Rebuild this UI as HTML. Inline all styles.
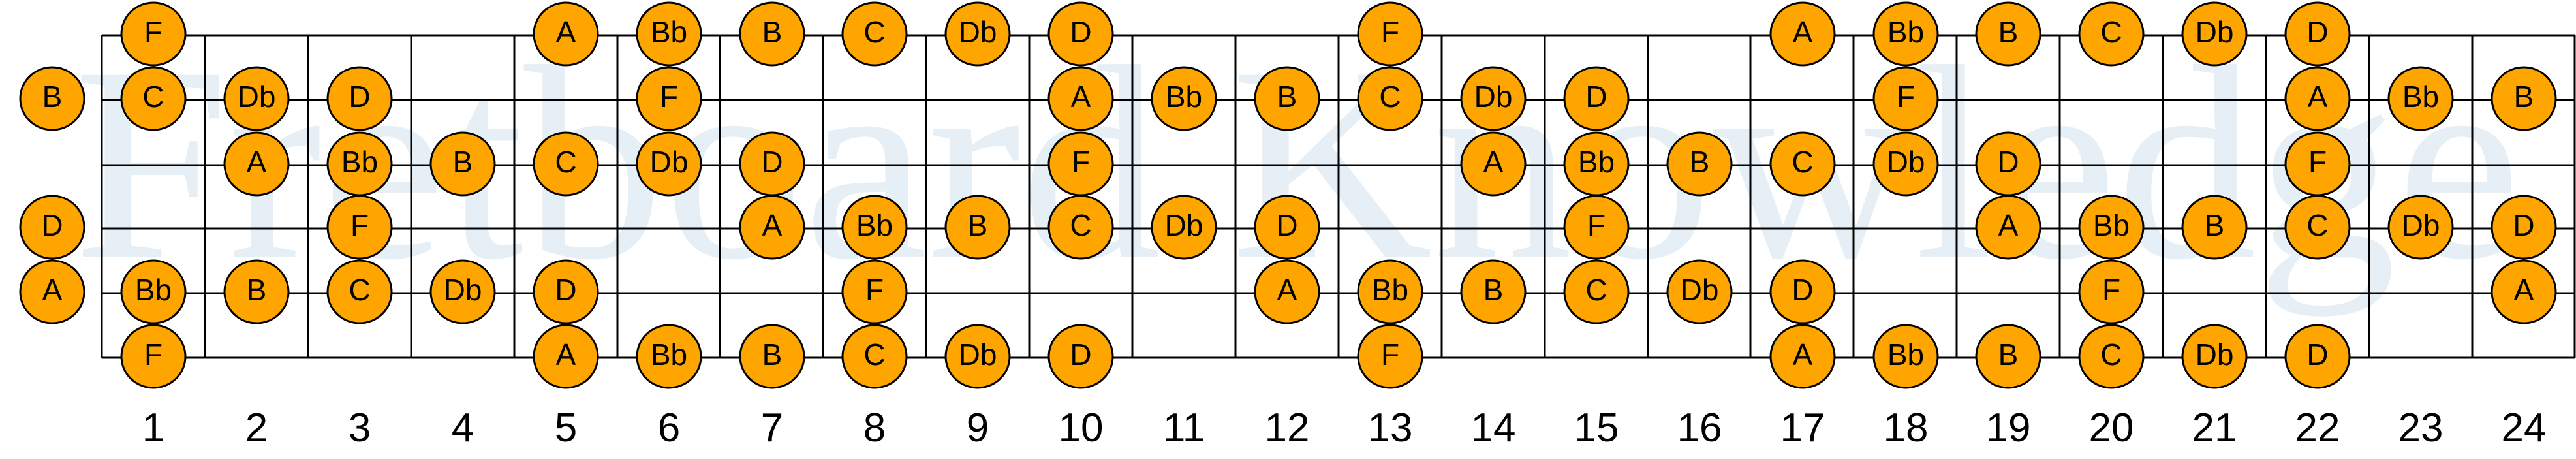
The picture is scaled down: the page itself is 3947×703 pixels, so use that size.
<!DOCTYPE html>
<html><head><meta charset="utf-8"><style>
html,body{margin:0;padding:0;background:#fff;}
svg{display:block}
.n ellipse{fill:#ffa500;stroke:#000;stroke-width:3}
.n text{font-family:"Liberation Sans",sans-serif;font-size:46px;text-anchor:middle;fill:#000}
.num{font-family:"Liberation Sans",sans-serif;font-size:62px;text-anchor:middle;fill:#000}
</style></head><body>
<svg width="3947" height="703" viewBox="0 0 3947 703" xmlns="http://www.w3.org/2000/svg">
<text x="112" y="393" textLength="3750" lengthAdjust="spacingAndGlyphs" font-family="Liberation Serif, serif" font-size="425" fill="#e6eff5">Fretboard Knowledge</text>
<g stroke="#000" stroke-width="3" fill="none">
<line x1="156" y1="54" x2="3945" y2="54"/>
<line x1="156" y1="153" x2="3945" y2="153"/>
<line x1="156" y1="253" x2="3945" y2="253"/>
<line x1="156" y1="350" x2="3945" y2="350"/>
<line x1="156" y1="449" x2="3945" y2="449"/>
<line x1="156" y1="548" x2="3945" y2="548"/>
<line x1="156" y1="54" x2="156" y2="548"/>
<line x1="314" y1="54" x2="314" y2="548"/><line x1="472" y1="54" x2="472" y2="548"/><line x1="630" y1="54" x2="630" y2="548"/><line x1="788" y1="54" x2="788" y2="548"/><line x1="946" y1="54" x2="946" y2="548"/><line x1="1103" y1="54" x2="1103" y2="548"/><line x1="1261" y1="54" x2="1261" y2="548"/><line x1="1419" y1="54" x2="1419" y2="548"/><line x1="1577" y1="54" x2="1577" y2="548"/><line x1="1735" y1="54" x2="1735" y2="548"/><line x1="1893" y1="54" x2="1893" y2="548"/><line x1="2051" y1="54" x2="2051" y2="548"/><line x1="2209" y1="54" x2="2209" y2="548"/><line x1="2367" y1="54" x2="2367" y2="548"/><line x1="2525" y1="54" x2="2525" y2="548"/><line x1="2682" y1="54" x2="2682" y2="548"/><line x1="2840" y1="54" x2="2840" y2="548"/><line x1="2998" y1="54" x2="2998" y2="548"/><line x1="3156" y1="54" x2="3156" y2="548"/><line x1="3314" y1="54" x2="3314" y2="548"/><line x1="3472" y1="54" x2="3472" y2="548"/><line x1="3630" y1="54" x2="3630" y2="548"/><line x1="3788" y1="54" x2="3788" y2="548"/><line x1="3945" y1="54" x2="3945" y2="548"/>
</g>
<!-- row 1 (y=52) -->
<g class="n" transform="translate(235,52)"><ellipse rx="49" ry="48"/><text y="13">F</text></g>
<g class="n" transform="translate(867,52)"><ellipse rx="49" ry="48"/><text y="13">A</text></g>
<g class="n" transform="translate(1025,52)"><ellipse rx="49" ry="48"/><text y="13">Bb</text></g>
<g class="n" transform="translate(1183,52)"><ellipse rx="49" ry="48"/><text y="13">B</text></g>
<g class="n" transform="translate(1340,52)"><ellipse rx="49" ry="48"/><text y="13">C</text></g>
<g class="n" transform="translate(1498,52)"><ellipse rx="49" ry="48"/><text y="13">Db</text></g>
<g class="n" transform="translate(1656,52)"><ellipse rx="49" ry="48"/><text y="13">D</text></g>
<g class="n" transform="translate(2130,52)"><ellipse rx="49" ry="48"/><text y="13">F</text></g>
<g class="n" transform="translate(2762,52)"><ellipse rx="49" ry="48"/><text y="13">A</text></g>
<g class="n" transform="translate(2920,52)"><ellipse rx="49" ry="48"/><text y="13">Bb</text></g>
<g class="n" transform="translate(3077,52)"><ellipse rx="49" ry="48"/><text y="13">B</text></g>
<g class="n" transform="translate(3235,52)"><ellipse rx="49" ry="48"/><text y="13">C</text></g>
<g class="n" transform="translate(3393,52)"><ellipse rx="49" ry="48"/><text y="13">Db</text></g>
<g class="n" transform="translate(3551,52)"><ellipse rx="49" ry="48"/><text y="13">D</text></g>
<!-- row 2 (y=151) -->
<g class="n" transform="translate(80,151)"><ellipse rx="49" ry="48"/><text y="13">B</text></g>
<g class="n" transform="translate(235,151)"><ellipse rx="49" ry="48"/><text y="13">C</text></g>
<g class="n" transform="translate(393,151)"><ellipse rx="49" ry="48"/><text y="13">Db</text></g>
<g class="n" transform="translate(551,151)"><ellipse rx="49" ry="48"/><text y="13">D</text></g>
<g class="n" transform="translate(1025,151)"><ellipse rx="49" ry="48"/><text y="13">F</text></g>
<g class="n" transform="translate(1656,151)"><ellipse rx="49" ry="48"/><text y="13">A</text></g>
<g class="n" transform="translate(1814,151)"><ellipse rx="49" ry="48"/><text y="13">Bb</text></g>
<g class="n" transform="translate(1972,151)"><ellipse rx="49" ry="48"/><text y="13">B</text></g>
<g class="n" transform="translate(2130,151)"><ellipse rx="49" ry="48"/><text y="13">C</text></g>
<g class="n" transform="translate(2288,151)"><ellipse rx="49" ry="48"/><text y="13">Db</text></g>
<g class="n" transform="translate(2446,151)"><ellipse rx="49" ry="48"/><text y="13">D</text></g>
<g class="n" transform="translate(2920,151)"><ellipse rx="49" ry="48"/><text y="13">F</text></g>
<g class="n" transform="translate(3551,151)"><ellipse rx="49" ry="48"/><text y="13">A</text></g>
<g class="n" transform="translate(3709,151)"><ellipse rx="49" ry="48"/><text y="13">Bb</text></g>
<g class="n" transform="translate(3867,151)"><ellipse rx="49" ry="48"/><text y="13">B</text></g>
<!-- row 3 (y=251) -->
<g class="n" transform="translate(393,251)"><ellipse rx="49" ry="48"/><text y="13">A</text></g>
<g class="n" transform="translate(551,251)"><ellipse rx="49" ry="48"/><text y="13">Bb</text></g>
<g class="n" transform="translate(709,251)"><ellipse rx="49" ry="48"/><text y="13">B</text></g>
<g class="n" transform="translate(867,251)"><ellipse rx="49" ry="48"/><text y="13">C</text></g>
<g class="n" transform="translate(1025,251)"><ellipse rx="49" ry="48"/><text y="13">Db</text></g>
<g class="n" transform="translate(1183,251)"><ellipse rx="49" ry="48"/><text y="13">D</text></g>
<g class="n" transform="translate(1656,251)"><ellipse rx="49" ry="48"/><text y="13">F</text></g>
<g class="n" transform="translate(2288,251)"><ellipse rx="49" ry="48"/><text y="13">A</text></g>
<g class="n" transform="translate(2446,251)"><ellipse rx="49" ry="48"/><text y="13">Bb</text></g>
<g class="n" transform="translate(2604,251)"><ellipse rx="49" ry="48"/><text y="13">B</text></g>
<g class="n" transform="translate(2762,251)"><ellipse rx="49" ry="48"/><text y="13">C</text></g>
<g class="n" transform="translate(2920,251)"><ellipse rx="49" ry="48"/><text y="13">Db</text></g>
<g class="n" transform="translate(3077,251)"><ellipse rx="49" ry="48"/><text y="13">D</text></g>
<g class="n" transform="translate(3551,251)"><ellipse rx="49" ry="48"/><text y="13">F</text></g>
<!-- row 4 (y=348) -->
<g class="n" transform="translate(80,348)"><ellipse rx="49" ry="48"/><text y="13">D</text></g>
<g class="n" transform="translate(551,348)"><ellipse rx="49" ry="48"/><text y="13">F</text></g>
<g class="n" transform="translate(1183,348)"><ellipse rx="49" ry="48"/><text y="13">A</text></g>
<g class="n" transform="translate(1340,348)"><ellipse rx="49" ry="48"/><text y="13">Bb</text></g>
<g class="n" transform="translate(1498,348)"><ellipse rx="49" ry="48"/><text y="13">B</text></g>
<g class="n" transform="translate(1656,348)"><ellipse rx="49" ry="48"/><text y="13">C</text></g>
<g class="n" transform="translate(1814,348)"><ellipse rx="49" ry="48"/><text y="13">Db</text></g>
<g class="n" transform="translate(1972,348)"><ellipse rx="49" ry="48"/><text y="13">D</text></g>
<g class="n" transform="translate(2446,348)"><ellipse rx="49" ry="48"/><text y="13">F</text></g>
<g class="n" transform="translate(3077,348)"><ellipse rx="49" ry="48"/><text y="13">A</text></g>
<g class="n" transform="translate(3235,348)"><ellipse rx="49" ry="48"/><text y="13">Bb</text></g>
<g class="n" transform="translate(3393,348)"><ellipse rx="49" ry="48"/><text y="13">B</text></g>
<g class="n" transform="translate(3551,348)"><ellipse rx="49" ry="48"/><text y="13">C</text></g>
<g class="n" transform="translate(3709,348)"><ellipse rx="49" ry="48"/><text y="13">Db</text></g>
<g class="n" transform="translate(3867,348)"><ellipse rx="49" ry="48"/><text y="13">D</text></g>
<!-- row 5 (y=447) -->
<g class="n" transform="translate(80,447)"><ellipse rx="49" ry="48"/><text y="13">A</text></g>
<g class="n" transform="translate(235,447)"><ellipse rx="49" ry="48"/><text y="13">Bb</text></g>
<g class="n" transform="translate(393,447)"><ellipse rx="49" ry="48"/><text y="13">B</text></g>
<g class="n" transform="translate(551,447)"><ellipse rx="49" ry="48"/><text y="13">C</text></g>
<g class="n" transform="translate(709,447)"><ellipse rx="49" ry="48"/><text y="13">Db</text></g>
<g class="n" transform="translate(867,447)"><ellipse rx="49" ry="48"/><text y="13">D</text></g>
<g class="n" transform="translate(1340,447)"><ellipse rx="49" ry="48"/><text y="13">F</text></g>
<g class="n" transform="translate(1972,447)"><ellipse rx="49" ry="48"/><text y="13">A</text></g>
<g class="n" transform="translate(2130,447)"><ellipse rx="49" ry="48"/><text y="13">Bb</text></g>
<g class="n" transform="translate(2288,447)"><ellipse rx="49" ry="48"/><text y="13">B</text></g>
<g class="n" transform="translate(2446,447)"><ellipse rx="49" ry="48"/><text y="13">C</text></g>
<g class="n" transform="translate(2604,447)"><ellipse rx="49" ry="48"/><text y="13">Db</text></g>
<g class="n" transform="translate(2762,447)"><ellipse rx="49" ry="48"/><text y="13">D</text></g>
<g class="n" transform="translate(3235,447)"><ellipse rx="49" ry="48"/><text y="13">F</text></g>
<g class="n" transform="translate(3867,447)"><ellipse rx="49" ry="48"/><text y="13">A</text></g>
<!-- row 6 (y=546) -->
<g class="n" transform="translate(235,546)"><ellipse rx="49" ry="48"/><text y="13">F</text></g>
<g class="n" transform="translate(867,546)"><ellipse rx="49" ry="48"/><text y="13">A</text></g>
<g class="n" transform="translate(1025,546)"><ellipse rx="49" ry="48"/><text y="13">Bb</text></g>
<g class="n" transform="translate(1183,546)"><ellipse rx="49" ry="48"/><text y="13">B</text></g>
<g class="n" transform="translate(1340,546)"><ellipse rx="49" ry="48"/><text y="13">C</text></g>
<g class="n" transform="translate(1498,546)"><ellipse rx="49" ry="48"/><text y="13">Db</text></g>
<g class="n" transform="translate(1656,546)"><ellipse rx="49" ry="48"/><text y="13">D</text></g>
<g class="n" transform="translate(2130,546)"><ellipse rx="49" ry="48"/><text y="13">F</text></g>
<g class="n" transform="translate(2762,546)"><ellipse rx="49" ry="48"/><text y="13">A</text></g>
<g class="n" transform="translate(2920,546)"><ellipse rx="49" ry="48"/><text y="13">Bb</text></g>
<g class="n" transform="translate(3077,546)"><ellipse rx="49" ry="48"/><text y="13">B</text></g>
<g class="n" transform="translate(3235,546)"><ellipse rx="49" ry="48"/><text y="13">C</text></g>
<g class="n" transform="translate(3393,546)"><ellipse rx="49" ry="48"/><text y="13">Db</text></g>
<g class="n" transform="translate(3551,546)"><ellipse rx="49" ry="48"/><text y="13">D</text></g>
<!-- fret numbers -->
<g class="num">
<text x="235" y="676">1</text><text x="393" y="676">2</text><text x="551" y="676">3</text><text x="709" y="676">4</text><text x="867" y="676">5</text><text x="1025" y="676">6</text><text x="1183" y="676">7</text><text x="1340" y="676">8</text><text x="1498" y="676">9</text><text x="1656" y="676">10</text><text x="1814" y="676">11</text><text x="1972" y="676">12</text><text x="2130" y="676">13</text><text x="2288" y="676">14</text><text x="2446" y="676">15</text><text x="2604" y="676">16</text><text x="2762" y="676">17</text><text x="2920" y="676">18</text><text x="3077" y="676">19</text><text x="3235" y="676">20</text><text x="3393" y="676">21</text><text x="3551" y="676">22</text><text x="3709" y="676">23</text><text x="3867" y="676">24</text>
</g>
</svg>
</body></html>
